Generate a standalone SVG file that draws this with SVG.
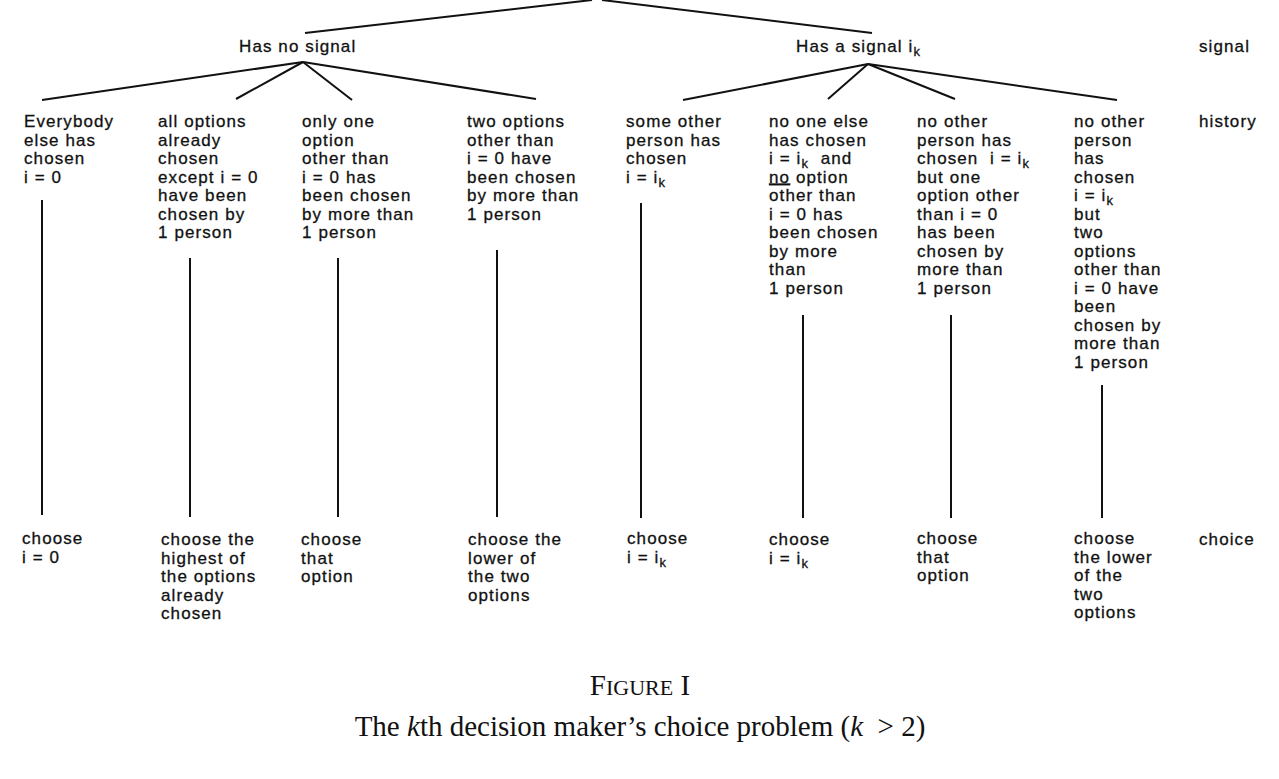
<svg xmlns="http://www.w3.org/2000/svg" width="1279" height="779" viewBox="0 0 1279 779">
<style>
text{font-family:"Liberation Sans",Arial,sans-serif;font-size:17px;fill:#111;letter-spacing:1.1px;stroke:#111;stroke-width:0.3}
.s{font-size:13px}
.cap{font-family:"Liberation Serif","Times New Roman",serif;font-size:29px;letter-spacing:0;stroke:none}
line{stroke:#111;stroke-width:2}
</style>
<rect width="1279" height="779" fill="#fff"/>
<g id="connectors">
<line x1="592" y1="0" x2="305" y2="33"/>
<line x1="602" y1="0" x2="872" y2="33"/>
<line x1="303" y1="62" x2="42" y2="100"/>
<line x1="303" y1="62" x2="236" y2="99"/>
<line x1="303" y1="62" x2="352" y2="100"/>
<line x1="303" y1="62" x2="536" y2="99"/>
<line x1="868" y1="64" x2="683" y2="100"/>
<line x1="868" y1="64" x2="828" y2="99"/>
<line x1="868" y1="64" x2="955" y2="99"/>
<line x1="868" y1="64" x2="1117" y2="100"/>
<line x1="42" y1="200" x2="42" y2="515"/>
<line x1="190" y1="258" x2="190" y2="517"/>
<line x1="338" y1="258" x2="338" y2="517"/>
<line x1="497" y1="250" x2="497" y2="517"/>
<line x1="641" y1="203" x2="641" y2="518"/>
<line x1="803" y1="315" x2="803" y2="518"/>
<line x1="951" y1="315" x2="951" y2="518"/>
<line x1="1102" y1="385" x2="1102" y2="518"/>
</g>
<g id="signal-none"><text x="239" y="52">Has no signal</text></g>
<g id="signal-ik"><text x="796" y="52">Has a signal i<tspan class="s" dy="4">k</tspan></text></g>
<g id="label-signal"><text x="1199" y="52">signal</text></g>
<g id="label-history"><text x="1199" y="127">history</text></g>
<g id="label-choice"><text x="1199" y="545">choice</text></g>
<g id="h1"><text x="24" y="127">Everybody<tspan x="24" dy="18.5">else has</tspan><tspan x="24" dy="18.5">chosen</tspan><tspan x="24" dy="18.5">i = 0</tspan></text></g>
<g id="h2"><text x="158" y="127">all options<tspan x="158" dy="18.5">already</tspan><tspan x="158" dy="18.5">chosen</tspan><tspan x="158" dy="18.5">except i = 0</tspan><tspan x="158" dy="18.5">have been</tspan><tspan x="158" dy="18.5">chosen by</tspan><tspan x="158" dy="18.5">1 person</tspan></text></g>
<g id="h3"><text x="302" y="127">only one<tspan x="302" dy="18.5">option</tspan><tspan x="302" dy="18.5">other than</tspan><tspan x="302" dy="18.5">i = 0 has</tspan><tspan x="302" dy="18.5">been chosen</tspan><tspan x="302" dy="18.5">by more than</tspan><tspan x="302" dy="18.5">1 person</tspan></text></g>
<g id="h4"><text x="467" y="127">two options<tspan x="467" dy="18.5">other than</tspan><tspan x="467" dy="18.5">i = 0 have</tspan><tspan x="467" dy="18.5">been chosen</tspan><tspan x="467" dy="18.5">by more than</tspan><tspan x="467" dy="18.5">1 person</tspan></text></g>
<g id="h5"><text x="626" y="127">some other<tspan x="626" dy="18.5">person has</tspan><tspan x="626" dy="18.5">chosen</tspan><tspan x="626" dy="18.5">i = i</tspan><tspan class="s" dy="4">k</tspan></text></g>
<g id="h6"><text x="769" y="127">no one else<tspan x="769" dy="18.5">has chosen</tspan><tspan x="769" dy="18.5">i = i</tspan><tspan class="s" dy="4">k</tspan><tspan dy="-4">&#160;&#160;and</tspan><tspan x="769" dy="18.5" text-decoration="underline">no</tspan><tspan>&#160;option</tspan><tspan x="769" dy="18.5">other than</tspan><tspan x="769" dy="18.5">i = 0 has</tspan><tspan x="769" dy="18.5">been chosen</tspan><tspan x="769" dy="18.5">by more</tspan><tspan x="769" dy="18.5">than</tspan><tspan x="769" dy="18.5">1 person</tspan></text></g>
<g id="h7"><text x="917" y="127">no other<tspan x="917" dy="18.5">person has</tspan><tspan x="917" dy="18.5">chosen&#160; i = i</tspan><tspan class="s" dy="4">k</tspan><tspan x="917" dy="14.5">but one</tspan><tspan x="917" dy="18.5">option other</tspan><tspan x="917" dy="18.5">than i = 0</tspan><tspan x="917" dy="18.5">has been</tspan><tspan x="917" dy="18.5">chosen by</tspan><tspan x="917" dy="18.5">more than</tspan><tspan x="917" dy="18.5">1 person</tspan></text></g>
<g id="h8"><text x="1074" y="127">no other<tspan x="1074" dy="18.5">person</tspan><tspan x="1074" dy="18.5">has</tspan><tspan x="1074" dy="18.5">chosen</tspan><tspan x="1074" dy="18.5">i = i</tspan><tspan class="s" dy="4">k</tspan><tspan x="1074" dy="14.5">but</tspan><tspan x="1074" dy="18.5">two</tspan><tspan x="1074" dy="18.5">options</tspan><tspan x="1074" dy="18.5">other than</tspan><tspan x="1074" dy="18.5">i = 0 have</tspan><tspan x="1074" dy="18.5">been</tspan><tspan x="1074" dy="18.5">chosen by</tspan><tspan x="1074" dy="18.5">more than</tspan><tspan x="1074" dy="18.5">1 person</tspan></text></g>
<g id="c1"><text x="22" y="544">choose<tspan x="22" dy="18.5">i = 0</tspan></text></g>
<g id="c2"><text x="161" y="545">choose the<tspan x="161" dy="18.5">highest of</tspan><tspan x="161" dy="18.5">the options</tspan><tspan x="161" dy="18.5">already</tspan><tspan x="161" dy="18.5">chosen</tspan></text></g>
<g id="c3"><text x="301" y="545">choose<tspan x="301" dy="18.5">that</tspan><tspan x="301" dy="18.5">option</tspan></text></g>
<g id="c4"><text x="468" y="545">choose the<tspan x="468" dy="18.5">lower of</tspan><tspan x="468" dy="18.5">the two</tspan><tspan x="468" dy="18.5">options</tspan></text></g>
<g id="c5"><text x="627" y="544">choose<tspan x="627" dy="18.5">i = i</tspan><tspan class="s" dy="4">k</tspan></text></g>
<g id="c6"><text x="769" y="545">choose<tspan x="769" dy="18.5">i = i</tspan><tspan class="s" dy="4">k</tspan></text></g>
<g id="c7"><text x="917" y="544">choose<tspan x="917" dy="18.5">that</tspan><tspan x="917" dy="18.5">option</tspan></text></g>
<g id="c8"><text x="1074" y="544">choose<tspan x="1074" dy="18.5">the lower</tspan><tspan x="1074" dy="18.5">of the</tspan><tspan x="1074" dy="18.5">two</tspan><tspan x="1074" dy="18.5">options</tspan></text></g>
<g id="caption">
<text class="cap" x="640" y="695" text-anchor="middle">F<tspan font-size="22">IGURE</tspan> I</text>
<text class="cap" x="640" y="736" text-anchor="middle">The <tspan font-style="italic">k</tspan>th decision maker’s choice problem (<tspan font-style="italic">k</tspan>&#160; &gt; 2)</text>
</g>
</svg>
